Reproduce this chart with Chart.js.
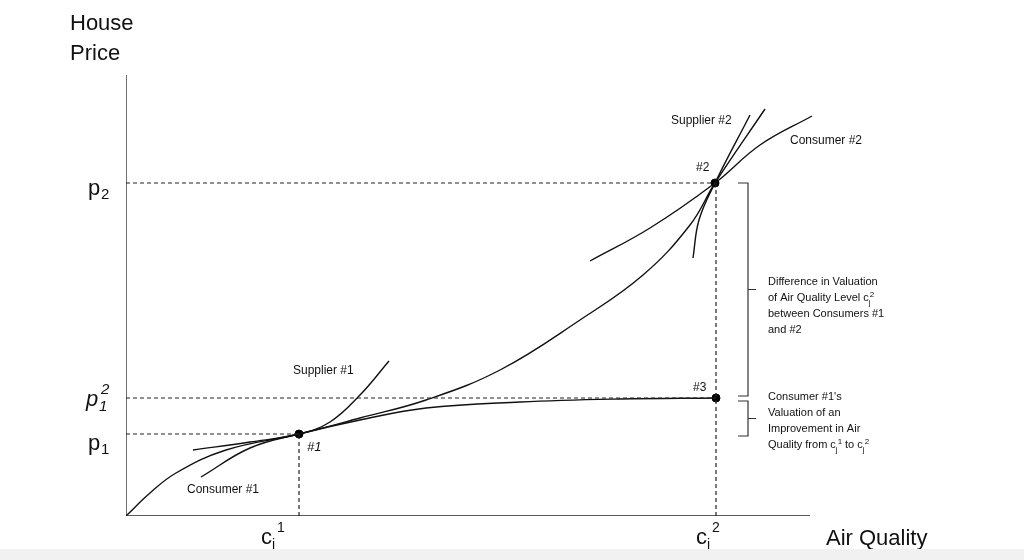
<!DOCTYPE html>
<html>
<head>
<meta charset="utf-8">
<script src="https://cdn.jsdelivr.net/npm/chart.js@4/dist/chart.umd.min.js"></script>
<style>
  html, body { margin: 0; padding: 0; background: #fff; }
  #wrap { width: 1024px; height: 560px; position: relative; }
</style>
</head>
<body>
<div id="wrap"><canvas id="c"></canvas></div>
<script>
// curve data (x = air quality, y = house price), in chart units
const hedonicX = [0, 24, 50, 100, 173, 234, 300, 374, 454, 517, 564, 589, 639];
const hedonicY = [0, 23, 43, 66, 82, 98, 116, 146, 196, 241, 291, 333, 407];
const consumer1X = [75, 124, 173, 234, 300, 394, 494, 590];
const consumer1Y = [39, 68, 82, 96, 108, 114, 117, 118];
const supplier1X = [67, 124, 173, 204, 234, 263];
const supplier1Y = [66, 74, 82, 94, 121, 155];
const consumer2X = [464, 524, 589, 634, 686];
const consumer2Y = [255, 288, 333, 371, 400];
const supplier2X = [567, 573, 589, 624];
const supplier2Y = [258, 296, 333, 401];

// equilibrium points #1, #2, #3
const cj1 = 173, cj2 = 590;
const p1 = 82, p1sq = 118, p2 = 333;

const pts = (xs, ys) => xs.map((x, i) => ({ x: x, y: ys[i] }));

const curve = (xs, ys) => ({
    data: pts(xs, ys), showLine: true, borderColor: '#111', borderWidth: 1.4,
    pointRadius: 0, tension: 0.4, fill: false
});
const dashed = (a, b) => ({
    data: [a, b], showLine: true, borderColor: '#222', borderWidth: 1.2,
    borderDash: [4, 3], pointRadius: 0
});
const solid = (a, b) => ({
    data: [a, b], showLine: true, borderColor: '#222', borderWidth: 1.3, pointRadius: 0
});

const datasets = [
    solid({ x: 0, y: 0 }, { x: 0, y: 441 }),
    solid({ x: 0, y: 0 }, { x: 684, y: 0 }),
    dashed({ x: 0, y: p2 }, { x: 589, y: p2 }),
    dashed({ x: 0, y: p1sq }, { x: cj2, y: p1sq }),
    dashed({ x: 0, y: p1 }, { x: cj1, y: p1 }),
    dashed({ x: cj1, y: 0 }, { x: cj1, y: p1 }),
    dashed({ x: cj2, y: 0 }, { x: cj2, y: p2 }),
    curve(hedonicX, hedonicY),
    curve(consumer1X, consumer1Y),
    curve(supplier1X, supplier1Y),
    curve(consumer2X, consumer2Y),
    curve(supplier2X, supplier2Y),
    {
        data: [{ x: cj1, y: p1 }, { x: 589, y: p2 }, { x: cj2, y: p1sq }],
        pointRadius: 4, pointBackgroundColor: '#000', pointBorderColor: '#000', showLine: false
    }
];

// text + brackets drawn on top
const labelsPlugin = {
    id: 'labels',
    afterDatasetsDraw(chart) {
        const ctx = chart.ctx;
        const sx = v => chart.scales.x.getPixelForValue(v);
        const sy = v => chart.scales.y.getPixelForValue(v);
        ctx.save();
        ctx.fillStyle = '#111';
        ctx.textBaseline = 'alphabetic';

        const txt = (s, x, y, font) => { ctx.font = font; ctx.fillText(s, x, y); };
        const big = '22px "Liberation Sans", Arial, sans-serif';
        const sm = '12px "Liberation Sans", Arial, sans-serif';
        const smItal = 'italic 13px "Liberation Sans", Arial, sans-serif';

        txt('House', 70, 30, big);
        txt('Price', 70, 60, big);
        txt('Air Quality', 826, 545, big);

        // y labels
        txt('p', 88, sy(p2) + 12, big); txt('2', 101, sy(p2) + 16, '15px "Liberation Sans", Arial');
        txt('p', 86, sy(p1sq) + 8, 'italic 22px "Liberation Sans", Arial');
        txt('1', 99, sy(p1sq) + 13, 'italic 15px "Liberation Sans", Arial');
        txt('2', 101, sy(p1sq) - 4, 'italic 15px "Liberation Sans", Arial');
        txt('p', 88, sy(p1) + 16, big); txt('1', 101, sy(p1) + 20, '15px "Liberation Sans", Arial');

        // x labels
        txt('c', sx(cj1) - 38, 544, big); txt('j', sx(cj1) - 27, 549, '14px "Liberation Sans", Arial');
        txt('1', sx(cj1) - 22, 532, '14px "Liberation Sans", Arial');
        txt('c', sx(cj2) - 20, 544, big); txt('j', sx(cj2) - 9, 549, '14px "Liberation Sans", Arial');
        txt('2', sx(cj2) - 4, 532, '14px "Liberation Sans", Arial');

        // curve labels
        txt('Supplier #1', 293, 374, sm);
        txt('Consumer #1', 187, 493, sm);
        txt('#1', 307, 451, smItal);
        txt('#2', 696, 171, sm);
        txt('#3', 693, 391, sm);
        txt('Supplier #2', 671, 124, sm);
        txt('Consumer #2', 790, 144, sm);

        const sm11 = '11px "Liberation Sans", Arial, sans-serif';
        const lines1 = ['Difference in Valuation', 'of Air Quality Level c', 'between Consumers #1', 'and #2'];
        lines1.forEach((l, i) => txt(l, 768, 285 + i * 16, sm11));
        ctx.font = sm11;
        let w = ctx.measureText(lines1[1]).width;
        txt('j', 768 + w, 305, '8px "Liberation Sans", Arial');
        txt('2', 768 + w + 1, 297, '8px "Liberation Sans", Arial');

        const lines2 = ["Consumer #1's", 'Valuation of an', 'Improvement in Air', 'Quality from c'];
        lines2.forEach((l, i) => txt(l, 768, 400 + i * 16, sm11));
        ctx.font = sm11;
        w = ctx.measureText(lines2[3]).width;
        let x0 = 768 + w;
        txt('j', x0, 452, '8px Arial'); txt('1', x0 + 2, 444, '8px Arial');
        ctx.font = sm11; ctx.fillText(' to c', x0 + 6, 448);
        x0 += 6 + ctx.measureText(' to c').width;
        txt('j', x0, 452, '8px Arial'); txt('2', x0 + 2, 444, '8px Arial');

        // brackets
        ctx.strokeStyle = '#333'; ctx.lineWidth = 1.2;
        const bracket = (top, bot) => {
            const x = 748, mid = (top + bot) / 2;
            ctx.beginPath();
            ctx.moveTo(738, top); ctx.lineTo(x, top); ctx.lineTo(x, bot); ctx.lineTo(738, bot);
            ctx.moveTo(x, mid); ctx.lineTo(x + 8, mid);
            ctx.stroke();
        };
        bracket(sy(p2), sy(p1sq) - 2);
        bracket(sy(p1sq) + 3, sy(p1) + 2);

        // grey strip at bottom
        ctx.fillStyle = '#f1f1f1';
        ctx.fillRect(0, 549, 1024, 11);
        ctx.restore();
    }
};

new Chart(document.getElementById('c'), {
    type: 'scatter',
    data: { datasets: datasets },
    options: {
        responsive: true,
        maintainAspectRatio: false,
        animation: false,
        layout: { padding: { left: 126, right: 198, top: 66, bottom: 44 } },
        plugins: { legend: { display: false }, tooltip: { enabled: false } },
        scales: {
            x: { type: 'linear', min: 0, max: 700, display: false },
            y: { type: 'linear', min: 0, max: 450, display: false }
        }
    },
    plugins: [labelsPlugin]
});
</script>
</body>
</html>
